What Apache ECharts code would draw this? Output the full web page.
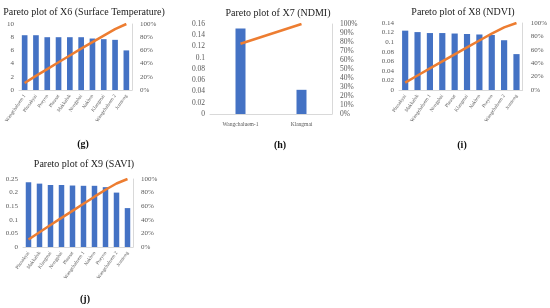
<!DOCTYPE html>
<html><head><meta charset="utf-8">
<script src="https://cdn.jsdelivr.net/npm/echarts@6/dist/echarts.min.js"></script>
<style>html,body{margin:0;padding:0;background:#fff}#c{width:550px;height:308px}</style>
</head><body><div id="c"></div>
<script>
// Panel (g) X6 Surface Temperature
const catsG = ['Wangchaluem 1','Phusakyai','Poeyon','Phrasat','Makkaluk','Nongphai','Nakhon','Klangmai','Wangchaluem 2','Jomtong'];
const valsG = [8.3, 8.3, 8.0, 8.0, 8.0, 8.0, 7.8, 7.7, 7.6, 6.0];
const cumG  = [10.7, 21.4, 31.7, 42.0, 52.3, 62.6, 72.6, 82.5, 92.3, 100];
// Panel (h) X7 NDMI
const catsH = ['Wangchaluem-1','Klangmai'];
const valsH = [0.152, 0.043];
const cumH  = [78, 100];
// Panel (i) X8 NDVI
const catsI = ['Phusakyai','Makkaluk','Wangchaluem 1','Nongphai','Phrasat','Klangmai','Nakhon','Poeyon','Wangchaluem 2','Jomtong'];
const valsI = [0.124, 0.121, 0.119, 0.119, 0.118, 0.117, 0.116, 0.115, 0.104, 0.075];
const cumI  = [11.0, 21.7, 32.3, 42.8, 53.3, 63.6, 73.9, 84.1, 93.4, 100];
// Panel (j) X9 SAVI
const catsJ = ['Phusakyai','Makkaluk','Klangmai','Nongphai','Phrasat','Wangchaluem 1','Nakhon','Poeyon','Wangchaluem 2','Jomtong'];
const valsJ = [0.238, 0.233, 0.228, 0.228, 0.226, 0.225, 0.225, 0.220, 0.200, 0.143];
const cumJ  = [11.0, 21.8, 32.3, 42.8, 53.2, 63.6, 74.0, 84.2, 93.4, 100];

const titles = ['Pareto plot of X6 (Surface Temperature)','Pareto plot of X7 (NDMI)','Pareto plot of X8 (NDVI)','Pareto plot of X9 (SAVI)'];
const panelLabels = ['(g)','(h)','(i)','(j)'];
const leftAxes = [{max:10,interval:2},{max:0.16,interval:0.02},{max:0.14,interval:0.02},{max:0.25,interval:0.05}];
const rightAxes = [{interval:20},{interval:10},{interval:20},{interval:20}];

const FONT = '"Liberation Serif", "DejaVu Serif", serif';
const GRAY = '#595959';
const grids = [
  {left:19, top:24, width:113, height:66},
  {left:210, top:24, width:122, height:90},
  {left:399, top:23, width:125, height:67},
  {left:23, top:179, width:110, height:68}
];
const cats = [catsG, catsH, catsI, catsJ];
const vals = [valsG, valsH, valsI, valsJ];
const cums = [cumG, cumH, cumI, cumJ];
const titlePos = [{x:79,y:2},{x:273,y:3},{x:458,y:2},{x:79,y:154}];
const labelPos = [{x:78,y:134},{x:275,y:135},{x:457,y:135},{x:80,y:289}];
const fs = [7, 7.5, 7, 7];

const option = {
  animation:false,
  backgroundColor:'#fff',
  title: [],
  grid: grids,
  xAxis: [], yAxis: [], series: []
};
for (let i=0;i<4;i++){
  option.title.push({text:titles[i], left:titlePos[i].x, top:titlePos[i].y, textAlign:'center',
    textStyle:{fontFamily:FONT, fontSize:10, fontWeight:'normal', color:'#222'}});
  option.title.push({text:panelLabels[i], left:labelPos[i].x, top:labelPos[i].y, textAlign:'center',
    textStyle:{fontFamily:FONT, fontSize:10, fontWeight:'bold', color:'#111'}});
  option.xAxis.push({type:'category', gridIndex:i, data:cats[i],
    axisLine:{lineStyle:{color:'#d9d9d9'}}, axisTick:{show:false},
    axisLabel:{rotate: i===1?0:55, interval:0, fontFamily:FONT, fontSize: i===1?5.5:5, color:GRAY, margin: i===1?8:5}});
  option.yAxis.push({type:'value', gridIndex:i, min:0, max:leftAxes[i].max, interval:leftAxes[i].interval,
    splitLine:{show:false}, axisLine:{show:false}, axisTick:{show:false},
    axisLabel:{fontFamily:FONT, fontSize:fs[i], color:GRAY, margin:5}});
  option.yAxis.push({type:'value', gridIndex:i, position:'right', min:0, max:100, interval:rightAxes[i].interval,
    splitLine:{show:false}, axisLine:{show:true, lineStyle:{color:'#d9d9d9'}}, axisTick:{show:false},
    axisLabel:{formatter:'{value}%', fontFamily:FONT, fontSize:fs[i], color:GRAY, margin:8}});
  option.series.push({type:'bar', xAxisIndex:i, yAxisIndex:2*i, data:vals[i],
    barWidth: i===1 ? 10 : '50%', itemStyle:{color:'#4472C4'}});
  option.series.push({type:'line', xAxisIndex:i, yAxisIndex:2*i+1, data:cums[i],
    symbol:'none', lineStyle:{color:'#ED7D31', width:2.5}});
}
const chart = echarts.init(document.getElementById('c'), null, {renderer:'canvas'});
chart.setOption(option);
</script></body></html>
